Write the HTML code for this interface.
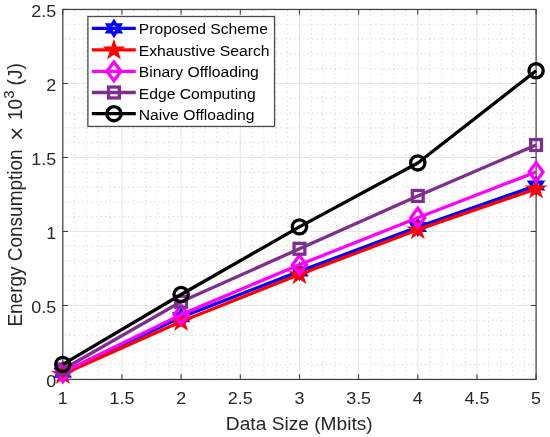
<!DOCTYPE html><html><head><meta charset="utf-8"><title>Energy Consumption</title><style>html,body{margin:0;padding:0;background:#fff}svg{display:block}text{font-family:"Liberation Sans",Arial,Helvetica,sans-serif;fill:#262626}</style></head><body>
<svg width="550" height="437" viewBox="0 0 550 437">
<rect width="550" height="437" fill="#fff"/>
<path d="M74.63 9.45V379.45M86.46 9.45V379.45M98.30 9.45V379.45M110.13 9.45V379.45M133.80 9.45V379.45M145.63 9.45V379.45M157.46 9.45V379.45M169.29 9.45V379.45M192.96 9.45V379.45M204.79 9.45V379.45M216.62 9.45V379.45M228.46 9.45V379.45M252.12 9.45V379.45M263.95 9.45V379.45M275.78 9.45V379.45M287.62 9.45V379.45M311.28 9.45V379.45M323.12 9.45V379.45M334.95 9.45V379.45M346.78 9.45V379.45M370.45 9.45V379.45M382.28 9.45V379.45M394.11 9.45V379.45M405.94 9.45V379.45M429.61 9.45V379.45M441.44 9.45V379.45M453.27 9.45V379.45M465.11 9.45V379.45M488.77 9.45V379.45M500.60 9.45V379.45M512.44 9.45V379.45M524.27 9.45V379.45" stroke="#cfcfcf" stroke-width="0.9" stroke-dasharray="1.2 3.3" stroke-dashoffset="-1.1" fill="none"/>
<path d="M62.80 364.65H536.10M62.80 349.85H536.10M62.80 335.05H536.10M62.80 320.25H536.10M62.80 290.65H536.10M62.80 275.85H536.10M62.80 261.05H536.10M62.80 246.25H536.10M62.80 216.65H536.10M62.80 201.85H536.10M62.80 187.05H536.10M62.80 172.25H536.10M62.80 142.65H536.10M62.80 127.85H536.10M62.80 113.05H536.10M62.80 98.25H536.10M62.80 68.65H536.10M62.80 53.85H536.10M62.80 39.05H536.10M62.80 24.25H536.10" stroke="#cfcfcf" stroke-width="0.9" stroke-dasharray="1.2 3.3" stroke-dashoffset="-1.9" fill="none"/>
<path d="M121.96 9.45V379.45M181.12 9.45V379.45M240.29 9.45V379.45M299.45 9.45V379.45M358.61 9.45V379.45M417.78 9.45V379.45M476.94 9.45V379.45M62.80 305.45H536.10M62.80 231.45H536.10M62.80 157.45H536.10M62.80 83.45H536.10" stroke="#e1e1e1" stroke-width="0.85" fill="none"/>
<path d="M62.80 379.45v-5.2M62.80 9.45v5.2M121.96 379.45v-5.2M121.96 9.45v5.2M181.12 379.45v-5.2M181.12 9.45v5.2M240.29 379.45v-5.2M240.29 9.45v5.2M299.45 379.45v-5.2M299.45 9.45v5.2M358.61 379.45v-5.2M358.61 9.45v5.2M417.78 379.45v-5.2M417.78 9.45v5.2M476.94 379.45v-5.2M476.94 9.45v5.2M536.10 379.45v-5.2M536.10 9.45v5.2M62.80 379.45h5.2M536.10 379.45h-5.2M62.80 305.45h5.2M536.10 305.45h-5.2M62.80 231.45h5.2M536.10 231.45h-5.2M62.80 157.45h5.2M536.10 157.45h-5.2M62.80 83.45h5.2M536.10 83.45h-5.2M62.80 9.45h5.2M536.10 9.45h-5.2" stroke="#333" stroke-width="1" fill="none"/>
<rect x="62.80" y="9.45" width="473.30" height="370.00" fill="none" stroke="#404040" stroke-width="1.25"/>
<text transform="translate(62.80,404.40) scale(1.030,1)" font-size="17.40" text-anchor="middle">1</text>
<text transform="translate(121.96,404.40) scale(1.030,1)" font-size="17.40" text-anchor="middle">1.5</text>
<text transform="translate(181.12,404.40) scale(1.030,1)" font-size="17.40" text-anchor="middle">2</text>
<text transform="translate(240.29,404.40) scale(1.030,1)" font-size="17.40" text-anchor="middle">2.5</text>
<text transform="translate(299.45,404.40) scale(1.030,1)" font-size="17.40" text-anchor="middle">3</text>
<text transform="translate(358.61,404.40) scale(1.030,1)" font-size="17.40" text-anchor="middle">3.5</text>
<text transform="translate(417.78,404.40) scale(1.030,1)" font-size="17.40" text-anchor="middle">4</text>
<text transform="translate(476.94,404.40) scale(1.030,1)" font-size="17.40" text-anchor="middle">4.5</text>
<text transform="translate(536.10,404.40) scale(1.030,1)" font-size="17.40" text-anchor="middle">5</text>
<text transform="translate(56.10,386.75) scale(1.030,1)" font-size="17.40" text-anchor="end">0</text>
<text transform="translate(56.10,312.75) scale(1.030,1)" font-size="17.40" text-anchor="end">0.5</text>
<text transform="translate(56.10,238.75) scale(1.030,1)" font-size="17.40" text-anchor="end">1</text>
<text transform="translate(56.10,164.75) scale(1.030,1)" font-size="17.40" text-anchor="end">1.5</text>
<text transform="translate(56.10,90.75) scale(1.030,1)" font-size="17.40" text-anchor="end">2</text>
<text transform="translate(56.10,16.75) scale(1.030,1)" font-size="17.40" text-anchor="end">2.5</text>
<text transform="translate(299.30,429.90) scale(1.020,1)" font-size="18.80" text-anchor="middle">Data Size (Mbits)</text>
<text transform="translate(22.3,326.6) rotate(-90) scale(1,1.03)" font-size="19" text-anchor="start">Energy Consumption <tspan x="185.1" dy="1" font-size="18.4" font-family="DejaVu Sans, sans-serif">×</tspan> <tspan x="206.6" dy="-1">10</tspan><tspan x="227.8" dy="-8.1" font-size="15">3</tspan> <tspan x="241.2" dy="8.1">(J)</tspan></text>
<polyline points="62.80,372.79 181.12,317.29 299.45,271.41 417.78,227.01 536.10,185.57" fill="none" stroke="#0000ff" stroke-width="3.3" stroke-linejoin="round"/>
<polygon points="62.80,366.04 64.88,369.41 69.05,369.41 66.97,372.79 69.05,376.16 64.88,376.16 62.80,379.54 60.72,376.16 56.55,376.16 58.63,372.79 56.55,369.41 60.72,369.41" fill="none" stroke="#0000ff" stroke-width="3.3" stroke-linejoin="miter"/>
<polygon points="181.12,310.54 183.21,313.91 187.38,313.91 185.29,317.29 187.38,320.66 183.21,320.66 181.12,324.04 179.04,320.66 174.87,320.66 176.96,317.29 174.87,313.91 179.04,313.91" fill="none" stroke="#0000ff" stroke-width="3.3" stroke-linejoin="miter"/>
<polygon points="299.45,264.66 301.53,268.03 305.70,268.03 303.62,271.41 305.70,274.78 301.53,274.78 299.45,278.16 297.37,274.78 293.20,274.78 295.28,271.41 293.20,268.03 297.37,268.03" fill="none" stroke="#0000ff" stroke-width="3.3" stroke-linejoin="miter"/>
<polygon points="417.78,220.26 419.86,223.63 424.03,223.63 421.94,227.01 424.03,230.38 419.86,230.38 417.78,233.76 415.69,230.38 411.52,230.38 413.61,227.01 411.52,223.63 415.69,223.63" fill="none" stroke="#0000ff" stroke-width="3.3" stroke-linejoin="miter"/>
<polygon points="536.10,178.82 538.18,182.19 542.35,182.19 540.27,185.57 542.35,188.94 538.18,188.94 536.10,192.32 534.02,188.94 529.85,188.94 531.93,185.57 529.85,182.19 534.02,182.19" fill="none" stroke="#0000ff" stroke-width="3.3" stroke-linejoin="miter"/>
<polyline points="62.80,374.34 181.12,321.43 299.45,274.52 417.78,229.67 536.10,188.83" fill="none" stroke="#ff0000" stroke-width="3.3" stroke-linejoin="round"/>
<polygon points="62.80,368.34 64.27,372.70 69.03,372.70 65.18,375.39 66.65,379.74 62.80,377.05 58.95,379.74 60.42,375.39 56.57,372.70 61.33,372.70" fill="none" stroke="#ff0000" stroke-width="3.3" stroke-linejoin="miter"/>
<polygon points="181.12,315.43 182.60,319.79 187.36,319.79 183.51,322.48 184.98,326.83 181.12,324.14 177.27,326.83 178.74,322.48 174.89,319.79 179.65,319.79" fill="none" stroke="#ff0000" stroke-width="3.3" stroke-linejoin="miter"/>
<polygon points="299.45,268.52 300.92,272.87 305.68,272.87 301.83,275.56 303.30,279.91 299.45,277.22 295.60,279.91 297.07,275.56 293.22,272.87 297.98,272.87" fill="none" stroke="#ff0000" stroke-width="3.3" stroke-linejoin="miter"/>
<polygon points="417.78,223.67 419.25,228.03 424.01,228.03 420.16,230.72 421.63,235.07 417.78,232.38 413.92,235.07 415.39,230.72 411.54,228.03 416.30,228.03" fill="none" stroke="#ff0000" stroke-width="3.3" stroke-linejoin="miter"/>
<polygon points="536.10,182.83 537.57,187.18 542.33,187.18 538.48,189.87 539.95,194.22 536.10,191.53 532.25,194.22 533.72,189.87 529.87,187.18 534.63,187.18" fill="none" stroke="#ff0000" stroke-width="3.3" stroke-linejoin="miter"/>
<polyline points="62.80,372.35 181.12,314.63 299.45,264.75 417.78,217.69 536.10,172.03" fill="none" stroke="#ff00ff" stroke-width="3.3" stroke-linejoin="round"/>
<polygon points="62.80,363.00 69.75,372.35 62.80,381.70 55.85,372.35" fill="none" stroke="#ff00ff" stroke-width="3.3" stroke-linejoin="miter"/>
<polygon points="181.12,305.28 188.07,314.63 181.12,323.98 174.18,314.63" fill="none" stroke="#ff00ff" stroke-width="3.3" stroke-linejoin="miter"/>
<polygon points="299.45,255.40 306.40,264.75 299.45,274.10 292.50,264.75" fill="none" stroke="#ff00ff" stroke-width="3.3" stroke-linejoin="miter"/>
<polygon points="417.78,208.34 424.73,217.69 417.78,227.04 410.83,217.69" fill="none" stroke="#ff00ff" stroke-width="3.3" stroke-linejoin="miter"/>
<polygon points="536.10,162.68 543.05,172.03 536.10,181.38 529.15,172.03" fill="none" stroke="#ff00ff" stroke-width="3.3" stroke-linejoin="miter"/>
<polyline points="62.80,369.53 181.12,301.75 299.45,248.77 417.78,195.93 536.10,145.02" fill="none" stroke="#7e2f8e" stroke-width="3.3" stroke-linejoin="round"/>
<rect x="57.40" y="364.08" width="10.80" height="10.90" fill="none" stroke="#7e2f8e" stroke-width="3.3"/>
<rect x="175.72" y="296.30" width="10.80" height="10.90" fill="none" stroke="#7e2f8e" stroke-width="3.3"/>
<rect x="294.05" y="243.32" width="10.80" height="10.90" fill="none" stroke="#7e2f8e" stroke-width="3.3"/>
<rect x="412.38" y="190.48" width="10.80" height="10.90" fill="none" stroke="#7e2f8e" stroke-width="3.3"/>
<rect x="530.70" y="139.57" width="10.80" height="10.90" fill="none" stroke="#7e2f8e" stroke-width="3.3"/>
<polyline points="62.80,364.35 181.12,294.50 299.45,226.86 417.78,162.93 536.10,70.72" fill="none" stroke="#000000" stroke-width="3.3" stroke-linejoin="round"/>
<ellipse cx="62.80" cy="364.35" rx="7.15" ry="7.05" fill="none" stroke="#000000" stroke-width="3.3"/>
<ellipse cx="181.12" cy="294.50" rx="7.15" ry="7.05" fill="none" stroke="#000000" stroke-width="3.3"/>
<ellipse cx="299.45" cy="226.86" rx="7.15" ry="7.05" fill="none" stroke="#000000" stroke-width="3.3"/>
<ellipse cx="417.78" cy="162.93" rx="7.15" ry="7.05" fill="none" stroke="#000000" stroke-width="3.3"/>
<ellipse cx="536.10" cy="70.72" rx="7.15" ry="7.05" fill="none" stroke="#000000" stroke-width="3.3"/>
<rect x="87.9" y="16.5" width="186.65" height="109.95" fill="#fff" stroke="#4a4a4a" stroke-width="1.3"/>
<path d="M91.85 28.40H135.8" stroke="#0000ff" stroke-width="3.3" fill="none"/>
<polygon points="113.95,21.65 116.03,25.02 120.20,25.02 118.12,28.40 120.20,31.77 116.03,31.77 113.95,35.15 111.87,31.77 107.70,31.78 109.78,28.40 107.70,25.02 111.87,25.02" fill="none" stroke="#0000ff" stroke-width="3.3" stroke-linejoin="miter"/>
<text transform="translate(138.70,34.40) scale(1.020,1)" font-size="15.40" text-anchor="start" style="fill:#000">Proposed Scheme</text>
<path d="M91.85 49.90H135.8" stroke="#ff0000" stroke-width="3.3" fill="none"/>
<polygon points="113.95,43.90 115.42,48.25 120.18,48.25 116.33,50.94 117.80,55.30 113.95,52.61 110.10,55.30 111.57,50.94 107.72,48.25 112.48,48.25" fill="none" stroke="#ff0000" stroke-width="3.3" stroke-linejoin="miter"/>
<text transform="translate(138.70,55.90) scale(1.020,1)" font-size="15.40" text-anchor="start" style="fill:#000">Exhaustive Search</text>
<path d="M91.85 71.30H135.8" stroke="#ff00ff" stroke-width="3.3" fill="none"/>
<polygon points="113.95,61.95 120.90,71.30 113.95,80.65 107.00,71.30" fill="none" stroke="#ff00ff" stroke-width="3.3" stroke-linejoin="miter"/>
<text transform="translate(138.70,77.30) scale(1.020,1)" font-size="15.40" text-anchor="start" style="fill:#000">Binary Offloading</text>
<path d="M91.85 92.50H135.8" stroke="#7e2f8e" stroke-width="3.3" fill="none"/>
<rect x="108.55" y="87.05" width="10.80" height="10.90" fill="none" stroke="#7e2f8e" stroke-width="3.3"/>
<text transform="translate(138.70,98.50) scale(1.020,1)" font-size="15.40" text-anchor="start" style="fill:#000">Edge Computing</text>
<path d="M91.85 113.70H135.8" stroke="#000000" stroke-width="3.3" fill="none"/>
<ellipse cx="113.95" cy="113.70" rx="7.15" ry="7.05" fill="none" stroke="#000000" stroke-width="3.3"/>
<text transform="translate(138.70,119.70) scale(1.020,1)" font-size="15.40" text-anchor="start" style="fill:#000">Naive Offloading</text>
</svg></body></html>
